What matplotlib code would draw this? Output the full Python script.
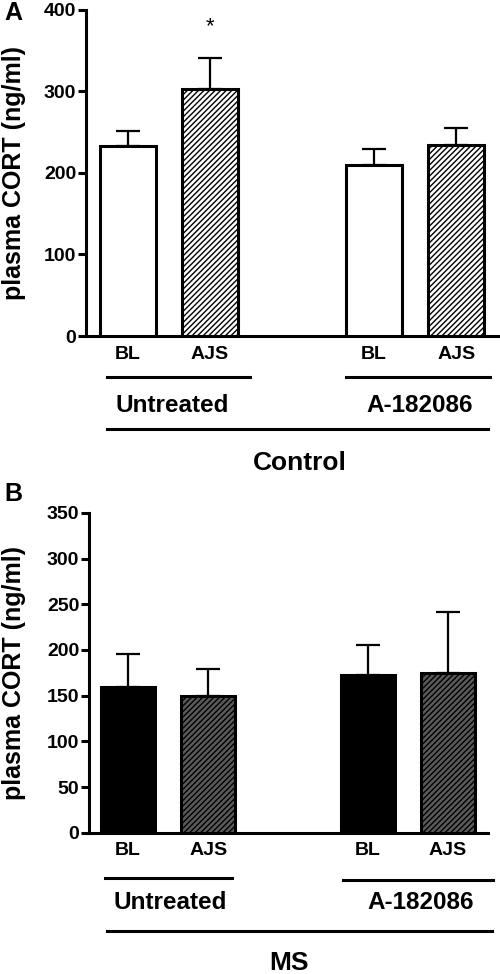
import matplotlib
matplotlib.use("Agg")
import matplotlib.pyplot as plt

plt.rcParams['font.family'] = ['Liberation Sans', 'DejaVu Sans']
plt.rcParams['font.weight'] = 'bold'
plt.rcParams['hatch.linewidth'] = 1.0

# data
positions = [0, 1, 3, 4]
tick_labels = ['BL', 'AJS', 'BL', 'AJS']
control_mean = [233, 303, 210, 234]
control_sem = [18, 38, 19, 21]
ms_mean = [159, 150, 173, 175]
ms_sem = [37, 29, 32, 67]
group_names = ['Untreated', 'A-182086']

fig = plt.figure(figsize=(5, 9.74), dpi=100)
axA = fig.add_axes([0.172, 0.655, 0.824, 0.335])
axB = fig.add_axes([0.178, 0.145, 0.798, 0.3285])

LW = 2.2


def draw_panel(ax, means, sems, faces, hatches, ymax, ystep, xlim):
    for x, m, s, fc, h in zip(positions, means, sems, faces, hatches):
        ax.bar(x, m, width=0.68, facecolor=fc, edgecolor='black',
               linewidth=LW, hatch=h, zorder=3)
        ax.errorbar(x, m, yerr=[[0], [s]], fmt='none', ecolor='black',
                    elinewidth=1.6, capsize=8.5, capthick=1.6, zorder=2)
    ax.set_xlim(*xlim)
    ax.set_ylim(0, ymax)
    ax.set_yticks(range(0, ymax + 1, ystep))
    ax.set_xticks(positions)
    ax.set_xticklabels(tick_labels, fontsize=14, fontweight='bold')
    for side in ['top', 'right']:
        ax.spines[side].set_visible(False)
    for side in ['left', 'bottom']:
        ax.spines[side].set_linewidth(LW)
    ax.tick_params(axis='y', length=6, width=LW, labelsize=14, direction='out', pad=1)
    ax.tick_params(axis='x', length=0, pad=7)
    ax.set_ylabel('plasma CORT (ng/ml)', fontsize=18, fontweight='bold')


def draw_groups(ax, y_lines, x_lines, y_texts, x_texts, y_long, x_long, title, y_title, x_title):
    tr = ax.get_xaxis_transform()
    for (x0, x1), yl in zip(x_lines, y_lines):
        ax.plot([x0, x1], [yl, yl], color='black', lw=LW, transform=tr, clip_on=False)
    for name, xt, yt in zip(group_names, x_texts, y_texts):
        ax.text(xt, yt, name, transform=tr, ha='center', va='center',
                fontsize=17.5, fontweight='bold')
    ax.plot(x_long, [y_long, y_long], color='black', lw=LW, transform=tr, clip_on=False)
    ax.text(x_title, y_title, title, transform=tr, ha='center', va='center',
            fontsize=19, fontweight='bold')


# panel A - Control
draw_panel(axA, control_mean, control_sem,
           ['white', 'white', 'white', 'white'], [None, '//////', None, '//////'],
           400, 100, (-0.51, 4.51))
axA.yaxis.set_label_coords(-0.146, 0.5)
axA.text(1, control_mean[1] + control_sem[1] + 38, '*', ha='center', va='center',
         fontsize=16, fontweight='normal')
draw_groups(axA, [-0.126, -0.126], [(-0.256, 1.49), (2.66, 4.41)],
            [-0.212, -0.212], [0.54, 3.56], -0.285, [-0.256, 4.39],
            'Control', -0.39, 2.1)

# panel B - MS
draw_panel(axB, ms_mean, ms_sem,
           ['black', '#5a5a5a', 'black', '#5a5a5a'], [None, '//////', None, '//////'],
           350, 50, (-0.49, 4.5))
axB.yaxis.set_label_coords(-0.158, 0.5)
draw_groups(axB, [-0.141, -0.147], [(-0.29, 1.3), (2.69, 4.56)],
            [-0.219, -0.219], [0.52, 3.66], -0.306, [-0.26, 4.55],
            'MS', -0.406, 2.01)

fig.text(0.026, 0.987, 'A', fontsize=18, fontweight='bold', ha='center', va='center')
fig.text(0.026, 0.493, 'B', fontsize=18, fontweight='bold', ha='center', va='center')

fig.savefig('out.png', dpi=100)
